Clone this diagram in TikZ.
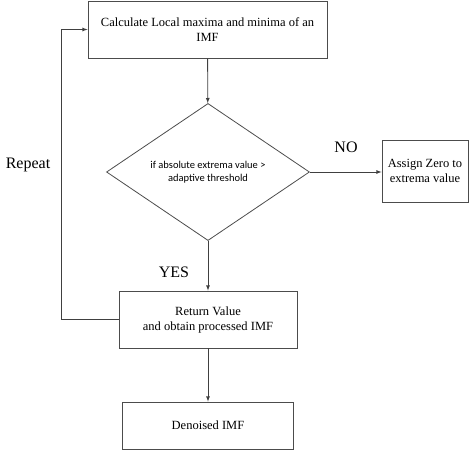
\documentclass[tikz,border=0pt]{standalone}
\usepackage{fontspec}
\setmainfont{Liberation Serif}
\newfontfamily\diafont{Carlito}
\usetikzlibrary{shapes.geometric}

\begin{document}
\begin{tikzpicture}[>=latex, x=1pt, y=1pt,
  box/.style={draw=black!70, line width=0.8pt, fill=white, align=center, inner sep=2pt, font=\fontsize{12.5}{15}\selectfont},
  decision/.style={diamond, draw=black!70, line width=0.8pt, align=center, inner sep=0pt, font=\diafont\fontsize{10.5}{13}\selectfont},
  link/.style={->, draw=black!75, line width=0.8pt},
  tag/.style={font=\fontsize{16}{18}\selectfont}]
\useasboundingbox (0,0) rectangle (474,450);
\pgfmathsetmacro\midx{208}
\node[box, minimum width=239pt, minimum height=57pt] (calc) at (207.5,420.5) {Calculate Local maxima and minima of an\\IMF};
\node[decision, minimum width=203pt, minimum height=116pt] (test) at (\midx,278) {if absolute extrema value \textgreater\\adaptive threshold};
\node[box, minimum width=86pt, minimum height=62pt] (zero) at (425,279) {Assign Zero to\\extrema value};
\node[box, minimum width=178pt, minimum height=57pt] (ret) at (\midx,130.5) {Return Value\\and obtain processed IMF};
\node[box, minimum width=171pt, minimum height=47pt] (den) at (\midx,24.5) {Denoised IMF};
\coordinate (lowcorner) at (61,130.5);
\coordinate (highcorner) at (61,420.5);
\draw[link] (calc) -- (test);
\draw[link] (test.east) -- (zero.west |- test.east);
\draw[link] (test) -- (ret);
\draw[link] (ret) -- (den);
\draw[link] (ret.west) -- (lowcorner) -- (highcorner) -- (calc.west);
\node[tag] (no) at (346,303) {NO};
\node[tag] (yes) at (174,178) {YES};
\node[tag] (rep) at (28,285) {Repeat};
\end{tikzpicture}
\end{document}
